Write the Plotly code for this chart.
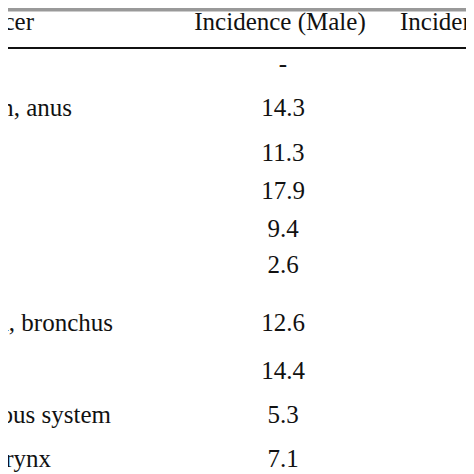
import plotly.graph_objects as go

headers = ["Cancer", "Incidence (Male)", "Incidence (Female)"]
cancer_labels = ["", "Colon, rectum, anus", "", "", "", "", "Lung, trachea, bronchus", "", "Central nervous system", "Larynx"]
male_incidence = ["-", "14.3", "11.3", "17.9", "9.4", "2.6", "12.6", "14.4", "5.3", "7.1"]

row_y = [58, 102, 147, 185, 223, 259, 317, 365, 409, 453]
FONT = "Liberation Serif"
SIZE = 25
W = H = 474
tf = dict(family=FONT, size=SIZE, color="#111")

fig = go.Figure()
fig.add_trace(go.Scatter(x=[26], y=[16], text=[headers[0]], mode="text",
                         textposition="middle left", textfont=tf))
fig.add_trace(go.Scatter(x=[272], y=[16], text=[headers[1]], mode="text",
                         textposition="middle center", textfont=tf))
fig.add_trace(go.Scatter(x=[392], y=[16], text=[headers[2]], mode="text",
                         textposition="middle right", textfont=tf))
ends = [0, 64, 0, 0, 0, 0, 105, 0, 103, 43]
fig.add_trace(go.Scatter(x=ends, y=row_y, text=cancer_labels, mode="text",
                         textposition="middle left", textfont=tf))
fig.add_trace(go.Scatter(x=[275] * len(male_incidence), y=row_y, text=male_incidence, mode="text",
                         textposition="middle center", textfont=tf))

fig.add_shape(type="line", x0=-10, x1=W + 10, y0=1.5, y1=1.5, line=dict(color="#999", width=4))
fig.add_shape(type="line", x0=-10, x1=W + 10, y0=40, y1=40, line=dict(color="#111", width=2))
fig.add_shape(type="line", x0=-10, x1=W + 10, y0=473, y1=473, line=dict(color="#ccc", width=3))

fig.update_layout(width=W, height=H, margin=dict(l=0, r=0, t=0, b=0),
                  paper_bgcolor="white", plot_bgcolor="white", showlegend=False,
                  xaxis=dict(range=[0, W], visible=False, fixedrange=True),
                  yaxis=dict(range=[H, 0], visible=False, fixedrange=True))
fig.update_traces(cliponaxis=False, hoverinfo="skip")
fig.write_html("out.html")
